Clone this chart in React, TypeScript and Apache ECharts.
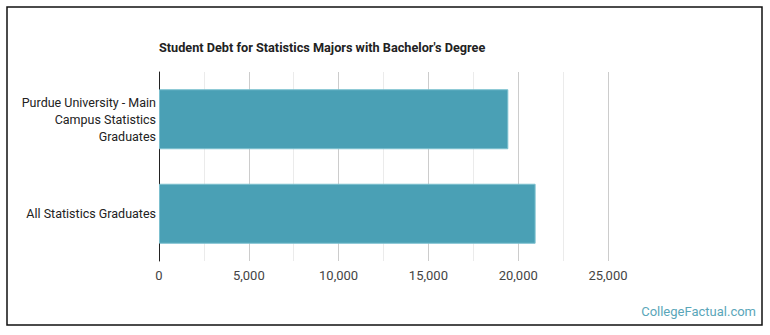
import React, { useEffect, useRef } from "react";
import * as echarts from "echarts";

const categories = [
  "Purdue University - Main\nCampus Statistics\nGraduates",
  "All Statistics Graduates",
];
const debtValues = [19450, 20970];
const titleText = "Student Debt for Statistics Majors with Bachelor's Degree";
const sourceText = "CollegeFactual.com";

export default function App() {
  const ref = useRef<HTMLDivElement>(null);
  useEffect(() => {
    if (!ref.current) return;
    const chart = echarts.init(ref.current, undefined, { renderer: "svg" });
    const font = "Roboto, 'Noto Sans', Arial, sans-serif";
    chart.setOption({
      animation: false,
      backgroundColor: "#ffffff",
      textStyle: { fontFamily: font },
      title: {
        text: titleText,
        left: 154,
        top: 36,
        textStyle: { fontSize: 12.7, fontWeight: "bold", color: "#222222", fontFamily: font },
      },
      graphic: [
        {
          type: "rect",
          shape: { x: 7, y: 7, width: 755, height: 318 },
          style: { fill: "none", stroke: "#111111", lineWidth: 1.5 },
          silent: true,
        },
        {
          type: "text",
          right: 14,
          top: 305,
          style: { text: sourceText, fill: "#5aa6b9", fontSize: 13, fontFamily: font },
        },
      ],
      grid: { left: 159, top: 72, width: 449, height: 189, containLabel: false },
      xAxis: {
        type: "value",
        min: 0,
        max: 25000,
        interval: 5000,
        axisLine: { show: false },
        axisTick: { show: false },
        axisLabel: {
          color: "#444444",
          fontSize: 13,
          margin: 8,
          formatter: (v: number) => v.toLocaleString("en-US"),
        },
        splitLine: { show: true, lineStyle: { color: "#cccccc", width: 1 } },
        minorTick: { show: false, splitNumber: 2 },
        minorSplitLine: { show: true, lineStyle: { color: "#ebebeb", width: 1 } },
      },
      yAxis: {
        type: "category",
        data: categories,
        inverse: true,
        axisLine: { show: true, lineStyle: { color: "#222222", width: 1 } },
        axisTick: { show: false },
        axisLabel: { color: "#222222", fontSize: 12.5, margin: 3, lineHeight: 17, align: "right" },
        splitLine: { show: false },
      },
      series: [
        {
          type: "bar",
          data: debtValues,
          barCategoryGap: "36.5%",
          itemStyle: { color: "#4aa0b5", borderColor: "#7cc0cf", borderWidth: 1 },
          z: 3,
        },
      ],
    });
    return () => chart.dispose();
  }, []);
  return (
    <div
      ref={ref}
      style={{ position: "absolute", left: 0, top: 0, width: 770, height: 335 }}
    />
  );
}
